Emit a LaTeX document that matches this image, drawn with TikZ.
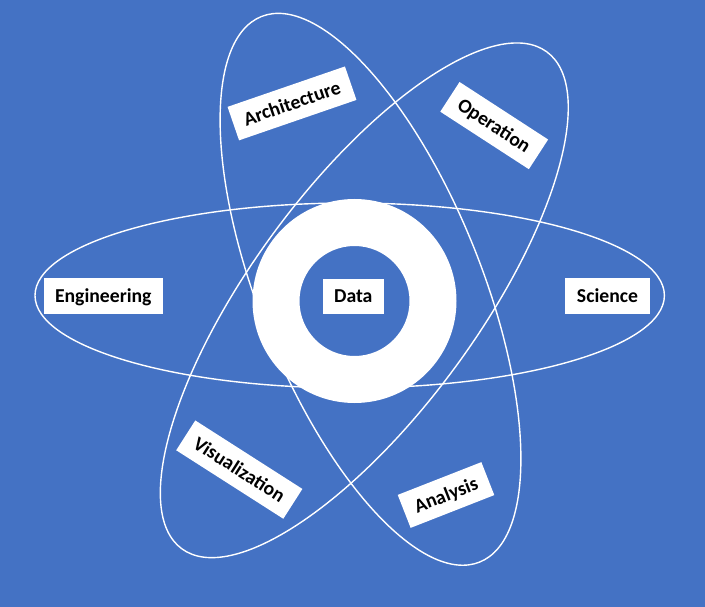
\documentclass[tikz,border=0pt]{standalone}
\usepackage{fontspec}
\setmainfont{Carlito}
\definecolor{bg}{HTML}{4472C4}
\begin{document}
\begin{tikzpicture}[x=1pt,y=1pt,
  orbit/.style={draw=white,line width=1.4pt},
  lbl/.style={fill=white,text=black,font=\fontsize{19.7}{22}\selectfont\bfseries,
    inner xsep=11.5pt,inner ysep=0pt,minimum height=35.4pt,text height=13pt,text depth=0pt}]
\fill[bg] (0,0) rectangle (705,-607);
\useasboundingbox (0,0) rectangle (705,-607);
% orbits
\draw[orbit] (349.7,-295.5) ellipse [x radius=314.7,y radius=92.5];
\draw[orbit,rotate around={-68.2:(370.5,-289.3)}] (370.5,-289.3) ellipse [x radius=293.8,y radius=111.5];
\draw[orbit,rotate around={53.7:(364.3,-300.3)}] (364.3,-300.3) ellipse [x radius=308.3,y radius=112.9];
% ring
\fill[white,even odd rule] (354.5,-301) circle [radius=102] circle [radius=55];
% labels
\node[lbl] (data) at (353.3,-296.3) {Data};
\node[lbl] (eng) at (103.3,-296) {Engineering};
\node[lbl] (sci) at (607.5,-296) {Science};
\node[lbl,rotate=19] (arch) at (292,-103.4) {Architecture};
\node[lbl,rotate=-33] (oper) at (494.2,-125.6) {Operation};
\node[lbl,rotate=-32.6] (vis) at (239.3,-469.6) {Visualization};
\node[lbl,rotate=21.4] (ana) at (446,-495) {Analysis};
\end{tikzpicture}
\end{document}
